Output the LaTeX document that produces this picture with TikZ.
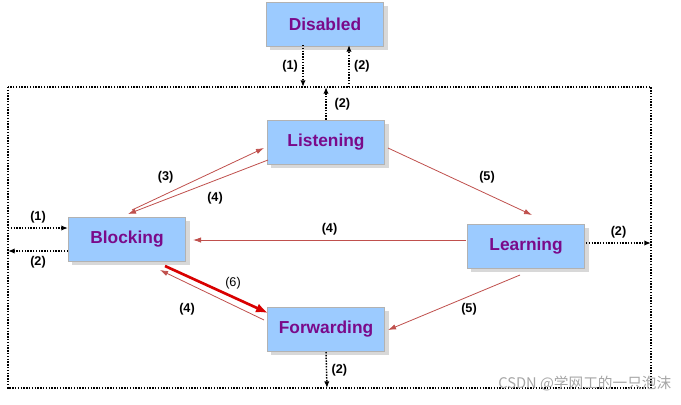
\documentclass[tikz,border=0pt]{standalone}
\usepackage{fontspec}
\setmainfont{Liberation Sans}
\newfontfamily\cjk{Noto Sans CJK SC}
\usetikzlibrary{arrows.meta,shadows}
\definecolor{boxfill}{HTML}{9CCBFF}
\definecolor{boxtext}{HTML}{7A0A8A}
\definecolor{redline}{HTML}{C0504D}
\tikzset{
  state/.style={draw=gray!60, fill=boxfill, minimum width=88pt, minimum height=33pt,
    inner sep=0pt, text=boxtext, font=\fontsize{13}{14}\selectfont\bfseries,
    drop shadow={shadow xshift=3pt, shadow yshift=-3pt, fill=gray!60}},
  dot/.style={densely dotted, line width=1.1pt, -{Latex[length=5pt,width=4pt]}},
  rl/.style={redline, line width=0.6pt, -{Latex[length=6pt,width=4pt]}},
  lab/.style={text=black, font=\fontsize{9.5}{10}\selectfont\bfseries},
}
\begin{document}
\begin{tikzpicture}[x=0.75pt,y=-0.75pt]
\useasboundingbox (0,0) rectangle (681,404);
\fill[white] (0,0) rectangle (681,404);
\draw[densely dotted, line width=1.1pt] (8,87) rectangle (651,388);
\node[state] (dis) at (325,24) {Disabled};
\node[state] (lis) at (326,142) {Listening};
\node[state] (blo) at (127,239) {Blocking};
\node[state] (lea) at (526,246) {Learning};
\node[state] (fwd) at (326,329) {Forwarding};
\coordinate (t1) at (303,87); \coordinate (t2) at (349,87);
\coordinate (t3) at (326,87);
\coordinate (l1) at (8,228); \coordinate (l2) at (8,251);
\coordinate (r1) at (651,243);
\coordinate (b1) at (327,388);
\draw[dot] (303,45) -- (t1) node[midway,left,lab]{(1)};
\draw[dot] (t2) -- (349,45) node[midway,right,lab]{(2)};
\draw[dot] (lis.north) -- (t3);
\node[lab,right] at (330,104) {(2)};
\draw[dot] (l1) -- (68,228) node[midway,above,lab]{(1)};
\draw[dot] (68,251) -- (l2) node[midway,below,lab]{(2)};
\draw[dot] (586,243) -- (r1) node[midway,above,lab]{(2)};
\draw[dot] (326,352) -- (b1) node[midway,right,lab]{(2)};
\draw[rl] (132,210) -- (264,148) node[pos=0.35,above left=0pt,lab]{(3)};
\draw[rl] (268,160) -- (128,214);
\node[lab] at (215,198) {(4)};
\draw[rl] (388,148) -- (532,215) node[pos=0.6,above right=0pt,lab]{(5)};
\draw[rl] (466,240) -- (193,240) node[midway,above,lab]{(4)};
\draw[rl] (520,275) -- (388,330);
\node[lab] at (469,309) {(5)};
\draw[rl] (264,320) -- (160,270);
\node[lab] at (187,309) {(4)};
\draw[red!85!black, line width=2pt, -{Latex[length=9pt,width=7pt]}] (165,266) -- (268,313);
\node[font=\fontsize{9.5}{10}\selectfont] at (233,283) {(6)};
\node[text=gray!70, font=\fontsize{11}{12}\selectfont\cjk, anchor=east] at (676,384) {CSDN @学网工的一只泡沫};
\end{tikzpicture}
\end{document}
